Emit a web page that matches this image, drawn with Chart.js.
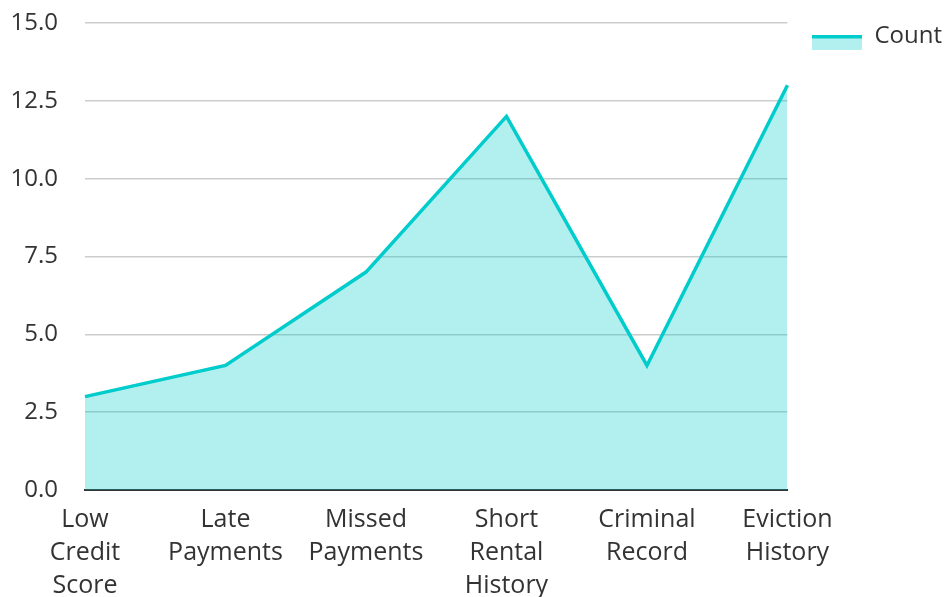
<!DOCTYPE html>
<html>
<head>
<meta charset="utf-8">
<script src="https://cdn.jsdelivr.net/npm/chart.js@4"></script>
<style>
  html, body { margin: 0; padding: 0; background: #fff; }
  #wrap { width: 944px; height: 597px; }
</style>
</head>
<body>
<div id="wrap"><canvas id="chart" width="944" height="597"></canvas></div>
<script>
const categories = [
  ["Low", "Credit", "Score"],
  ["Late", "Payments"],
  ["Missed", "Payments"],
  ["Short", "Rental", "History"],
  ["Criminal", "Record"],
  ["Eviction", "History"]
];
const counts = [3, 4, 7, 12, 4, 13];
const seriesLabel = "Count";

const lineColor = "#00cccc";
const fillColor = "rgba(0, 204, 204, 0.3)";
const textColor = "#333333";

// legend swatch: thick line on top, light fill below (top part left empty so the line sits at text middle)
const swatch = document.createElement("canvas");
swatch.width = 50;
swatch.height = 28;
const sctx = swatch.getContext("2d");
sctx.fillStyle = fillColor;
sctx.fillRect(0, 16, 50, 12);
sctx.fillStyle = lineColor;
sctx.fillRect(0, 13, 50, 3.5);

// nudge the legend a bit away from the plot, like the original
const legendShift = {
  id: "legendShift",
  afterLayout(chart) {
    const l = chart.legend;
    if (!l) return;
    l.left += 15;
    l.right += 15;
    l.top -= 9;
    l.bottom -= 9;
  }
};

Chart.defaults.font.family = "'Open Sans', 'Noto Sans', sans-serif";
Chart.defaults.font.size = 24;
Chart.defaults.color = textColor;

const ctx = document.getElementById("chart").getContext("2d");
new Chart(ctx, {
  type: "line",
  data: {
    labels: categories,
    datasets: [
      {
        label: seriesLabel,
        data: counts,
        borderColor: lineColor,
        backgroundColor: fillColor,
        borderWidth: 3.5,
        fill: "origin",
        tension: 0,
        pointRadius: 0,
        pointHoverRadius: 0,
        pointStyle: swatch
      }
    ]
  },
  options: {
    responsive: false,
    animation: false,
    layout: { padding: { top: 23, left: 0, right: 7, bottom: 0 } },
    plugins: {
      legend: {
        position: "right",
        align: "start",
        labels: {
          usePointStyle: true,
          pointStyleWidth: 50,
          boxHeight: 24,
          padding: 10,
          font: { size: 24 }
        }
      },
      tooltip: { enabled: false }
    },
    scales: {
      x: {
        offset: false,
        grid: { display: false, drawTicks: false },
        border: { display: true, color: "#333333", width: 2 },
        afterFit: (scale) => { scale.height = 107; },
        ticks: { padding: 13.5, maxRotation: 0, autoSkip: false, font: { size: 25, lineHeight: 1.32 } }
      },
      y: {
        min: 0,
        max: 15,
        grid: { color: "#cccccc", lineWidth: 1.5, drawTicks: false },
        border: { display: false },
        afterFit: (scale) => {
          scale.width = 85;
          scale.paddingTop = 0;
          scale.paddingBottom = 0;
        },
        ticks: {
          stepSize: 2.5,
          padding: 27,
          callback: (v) => v.toFixed(1)
        }
      }
    }
  },
  plugins: [legendShift]
});
</script>
</body>
</html>
